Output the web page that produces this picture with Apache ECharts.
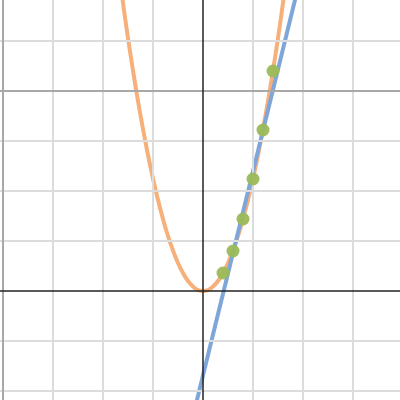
<!DOCTYPE html>
<html><head><meta charset="utf-8">
<script src="https://cdn.jsdelivr.net/npm/echarts@6/dist/echarts.min.js"></script>
<style>html,body{margin:0;padding:0;background:#fff}#c{width:400px;height:400px}</style>
</head><body><div id="c"></div>
<script>
const pointsX = [0.4, 0.6, 0.8, 1.0, 1.2, 1.4];
const pointsY = [0.36, 0.8, 1.44, 2.24, 3.22, 4.4];
const curveX = [-1.7,-1.6,-1.5,-1.4,-1.3,-1.2,-1.1,-1.0,-0.9,-0.8,-0.7,-0.6,-0.5,-0.4,-0.3,-0.2,-0.1,0,0.1,0.2,0.3,0.4,0.5,0.6,0.7,0.8,0.9,1.0,1.1,1.2,1.3,1.4,1.5,1.6,1.7];
const curveY = [6.5,5.76,5.06,4.41,3.8,3.24,2.72,2.25,1.82,1.44,1.1,0.81,0.56,0.36,0.2,0.09,0.02,0,0.02,0.09,0.2,0.36,0.56,0.81,1.1,1.44,1.82,2.25,2.72,3.24,3.8,4.41,5.06,5.76,6.5];
const lineX = [-0.4, 2.2];
const lineY = [-3.32, 7.29];
const gridX = [-3, -2, -1, 1, 2, 3];
const gridY = [-2, -1, 1, 2, 3, 5];
const majorX = [-4];
const majorY = [4];

const chart = echarts.init(document.getElementById('c'));
const ml = (data, color, width) => ({type:'line', data:[], silent:true, markLine:{symbol:'none', silent:true, animation:false,
  label:{show:false}, lineStyle:{color, width, type:'solid'}, data}});
chart.setOption({
  animation:false,
  grid:{left:0, top:0, right:0, bottom:0},
  xAxis:{type:'value', min:-4.06, max:3.94, axisLine:{show:false}, axisTick:{show:false}, axisLabel:{show:false}, splitLine:{show:false}},
  yAxis:{type:'value', min:-2.18, max:5.82, axisLine:{show:false}, axisTick:{show:false}, axisLabel:{show:false}, splitLine:{show:false}},
  series:[
    ml(gridX.map(v=>({xAxis:v})).concat(gridY.map(v=>({yAxis:v}))), '#dcdcdc', 2),
    ml(majorX.map(v=>({xAxis:v})).concat(majorY.map(v=>({yAxis:v}))), '#a8a8a8', 2),
    ml([{xAxis:0},{yAxis:0}], '#222', 1.5),
    {type:'line', data:curveX.map((x,i)=>[x,curveY[i]]), smooth:true, showSymbol:false,
      lineStyle:{color:'#f7b07a', width:4}},
    {type:'line', data:lineX.map((x,i)=>[x,lineY[i]]), showSymbol:false,
      lineStyle:{color:'#7fa6d8', width:4}},
    {type:'scatter', data:pointsX.map((x,i)=>[x,pointsY[i]]), symbolSize:13,
      itemStyle:{color:'#9bbb59', opacity:0.95}, z:5}
  ]
});
</script></body></html>
